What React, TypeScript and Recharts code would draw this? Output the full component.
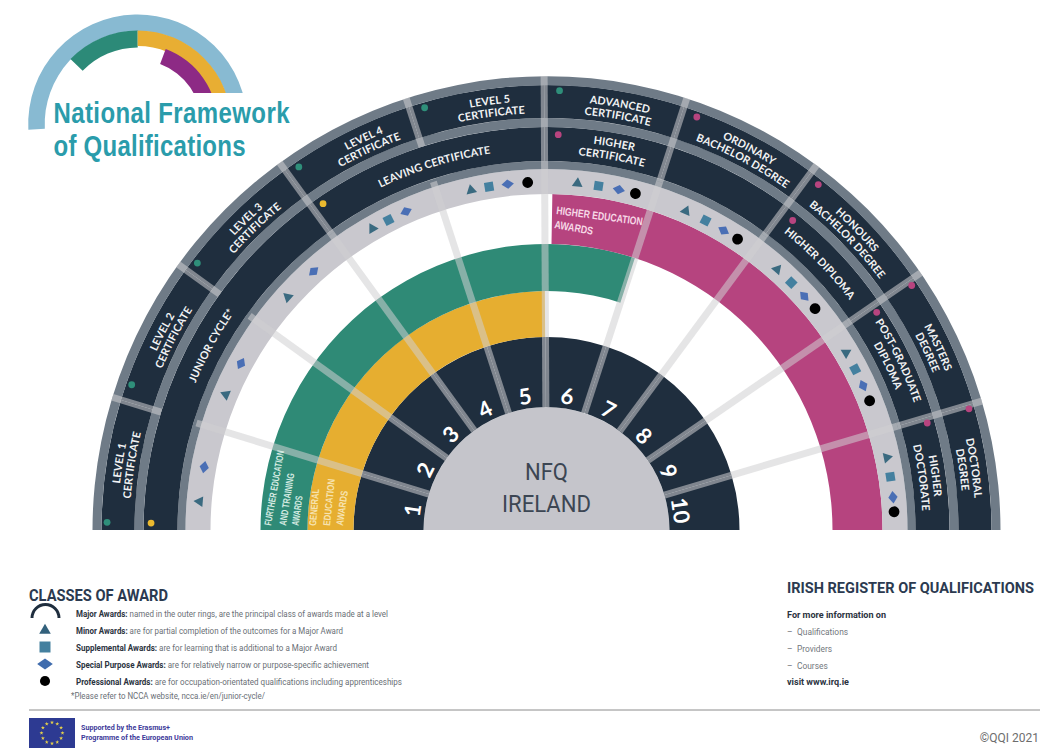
import React from "react";
import { PieChart, Pie, Symbols, Sector } from "recharts";

// angle (deg clockwise from the left end) where each level wedge ends
const levelEdges = [0, 17, 35.8, 54, 72, 89.7, 108, 126.5, 145.5, 163.5, 180];
const levelNames = ["1", "2", "3", "4", "5", "6", "7", "8", "9", "10"];

const outerLabels = [
  ["LEVEL 1", "CERTIFICATE"], ["LEVEL 2", "CERTIFICATE"], ["LEVEL 3", "CERTIFICATE"],
  ["LEVEL 4", "CERTIFICATE"], ["LEVEL 5", "CERTIFICATE"], ["ADVANCED", "CERTIFICATE"],
  ["ORDINARY", "BACHELOR DEGREE"], ["HONOURS", "BACHELOR DEGREE"], ["MASTERS", "DEGREE"],
  ["DOCTORAL", "DEGREE"],
];
const outerNudge = [-0.4, -0.9, -1.1, -2, -1.6, -0.95, -0.75, 0, -0.5, 0];

const innerEdges = [0, 54, 89.7, 108, 126.5, 145.5, 163.5, 180];
const innerLabels = [
  ["JUNIOR CYCLE*"], ["LEAVING CERTIFICATE"], ["HIGHER", "CERTIFICATE"], [],
  ["HIGHER DIPLOMA"], ["POST-GRADUATE", "DIPLOMA"], ["HIGHER", "DOCTORATE"],
];
const innerNudge = [-1.8, -1, -1.1, 0, 0.3, 0.2, -0.3];

const markerAngles = [
  4.7, 10.4, 22.9, 28.6, 42, 48, 60, 63, 66.2, 77.5, 80.5, 83.6, 86.9,
  95.1, 98.6, 102, 104.8, 113.6, 117.2, 120.6, 123.3, 131.5, 134.7, 137.8, 140.5,
  149.4, 152.5, 155.5, 158.2, 168, 171.2, 174.6, 177,
];
const markerKinds = [
  "triangle", "diamond", "triangle", "diamond", "triangle", "diamond",
  "triangle", "square", "diamond", "triangle", "square", "diamond", "circle",
  "triangle", "square", "diamond", "circle", "triangle", "square", "diamond", "circle",
  "triangle", "square", "diamond", "circle", "triangle", "square", "diamond", "circle",
  "triangle", "square", "diamond", "circle",
];

const outerDotAngles = [1, 19.3, 37.4, 55.7, 73.9, 91.7, 110, 128.2, 146.2, 164];
const outerDotKinds = ["fe", "fe", "fe", "fe", "fe", "fe", "he", "he", "he", "he"];
const innerDotAngles = [1, 55.6, 91.7, 128.5, 146.6, 164.3];
const innerDotKinds = ["ge", "ge", "he", "he", "he", "he"];

const classRows = [
  ["Major Awards:", " named in the outer rings, are the principal class of awards made at a level"],
  ["Minor Awards:", " are for partial completion of the outcomes for a Major Award"],
  ["Supplemental Awards:", " are for learning that is additional to a Major Award"],
  ["Special Purpose Awards:", " are for relatively narrow or purpose-specific achievement"],
  ["Professional Awards:", " are for occupation-orientated qualifications including apprenticeships"],
];
const registerItems = ["Qualifications", "Providers", "Courses"];

const DARK = "#1f2e3e";
const BAND = "#6f7b87";
const LIGHT = "#c9c8ce";
const GREEN = "#2f8a76";
const YELLOW = "#e6ae30";
const PINK = "#b6447f";
const DOT: any = { fe: "#2f8f7a", ge: "#eab92f", he: "#b8447f" };
const MARKER: any = {
  triangle: { fill: "#3a6a80", size: 50 },
  square: { fill: "#44809f", size: 80 },
  diamond: { fill: "#4a6fb5", size: 62 },
  circle: { fill: "#000", size: 92 },
};

const CX = 546.5;
const CY = 530;
const RAD = Math.PI / 180;
const pt = (r: number, deg: number) => [CX + r * Math.cos(deg * RAD), CY - r * Math.sin(deg * RAD)];

const spans = (edges: number[]) => edges.slice(1).map((e, i) => ({ value: e - edges[i] }));
// each sector ends on the angle it stands for, the last one only fills up to 180
const gaps = (angles: number[]) => spans([0, ...angles, 180]);

const half = {
  cx: CX, cy: CY, startAngle: 180, endAngle: 0, dataKey: "value",
  stroke: "none", isAnimationActive: false, labelLine: false,
};
const whole = [{ value: 1 }];

const Divider = (p: any) => {
  if (p.index === 0) return <g key={p.index} />;
  const [x1, y1] = pt(p.innerRadius, p.startAngle);
  const [x2, y2] = pt(p.outerRadius, p.startAngle);
  return <line key={p.index} x1={x1} y1={y1} x2={x2} y2={y2} stroke="#d0d0d2" strokeOpacity={0.55} strokeWidth={7} />;
};

const ringLabel = (prefix: string, names: string[][], nudge: number[], bases: number[][]) => (p: any) => {
  const lines = names[p.index];
  const mid = p.midAngle + nudge[p.index];
  return (
    <g key={p.index}>
      {lines.map((line, i) => {
        const r = bases[lines.length - 1][i];
        const [x1, y1] = pt(r, mid + 40);
        const [x2, y2] = pt(r, mid - 40);
        const id = `${prefix}-${p.index}-${i}`;
        return (
          <g key={id}>
            <path id={id} d={`M${x1} ${y1}A${r} ${r} 0 0 1 ${x2} ${y2}`} fill="none" stroke="none" />
            <text fill="#f2f3f4" fontFamily="Lato, sans-serif" fontWeight={700} fontSize={10.8} letterSpacing={0.1}>
              <textPath href={`#${id}`} startOffset="50%" textAnchor="middle">{line}</textPath>
            </text>
          </g>
        );
      })}
    </g>
  );
};

const LevelNumber = (p: any) => {
  const [x, y] = pt(136, p.midAngle);
  return (
    <text key={p.index} transform={`translate(${x} ${y}) rotate(${90 - p.midAngle})`} textAnchor="middle"
      dominantBaseline="central" fill="#fff" fontFamily="Lato, sans-serif" fontWeight={700} fontSize={22}>
      {levelNames[p.index]}
    </text>
  );
};

const Marker = (p: any) => {
  const kind = markerKinds[p.index];
  if (!kind) return <g key={p.index} />;
  const [x, y] = pt(348, p.endAngle);
  const turn = kind === "diamond" ? `rotate(${180 - p.endAngle}) scale(1.1 0.85)` : `rotate(${90 - p.endAngle})`;
  return (
    <g key={p.index} transform={`translate(${x} ${y}) ${turn}`}>
      <Symbols cx={0} cy={0} type={kind as any} size={MARKER[kind].size} fill={MARKER[kind].fill} />
    </g>
  );
};

const dotLabel = (kinds: string[], r: number) => (p: any) => {
  const kind = kinds[p.index];
  if (!kind) return <g key={p.index} />;
  const [x, y] = pt(r, p.endAngle);
  return <circle key={p.index} cx={x} cy={y} r={3.4} fill={DOT[kind]} />;
};

const condensed = "'Liberation Sans', sans-serif";
const plain = "Roboto, sans-serif";
const LOGO = { cx: 137.7, cy: 124 };

export default function App() {
  return (
    <div style={{ position: "absolute", left: 0, top: 0, width: 1061, height: 753, background: "#fff", overflow: "hidden" }}>
      <div style={{ position: "absolute", left: 0, top: 0 }}>
        <PieChart width={1061} height={560} margin={{ top: 0, right: 0, bottom: 0, left: 0 }}>
          <Pie {...half} data={whole} name="centre" innerRadius={0} outerRadius={123} fill="#c5c5cb" />
          <Pie {...half} data={spans(levelEdges)} name="levels" innerRadius={123} outerRadius={193} fill={DARK} label={LevelNumber} />
          <Pie {...half} data={whole} name="general" endAngle={90.4} innerRadius={193} outerRadius={239} fill={YELLOW} />
          <Pie {...half} data={whole} name="further" endAngle={72} innerRadius={239} outerRadius={286} fill={GREEN} />
          <Pie {...half} data={whole} name="higher" startAngle={89} innerRadius={286} outerRadius={336} fill={PINK} />
          <Pie {...half} data={whole} name="band light" innerRadius={336} outerRadius={361} fill={LIGHT} />
          <Pie {...half} data={whole} name="band inner" innerRadius={361} outerRadius={369} fill={BAND} />
          <Pie {...half} data={spans(innerEdges)} name="inner ring" innerRadius={369} outerRadius={403} fill={DARK}
            label={ringLabel("inner", innerLabels, innerNudge, [[380.5], [389, 376]])} />
          <Pie {...half} data={whole} name="band mid" innerRadius={403} outerRadius={412} fill={BAND} />
          <Pie {...half} data={spans(levelEdges)} name="outer ring" innerRadius={412} outerRadius={445} fill={DARK}
            label={ringLabel("outer", outerLabels, outerNudge, [[424], [429, 417]])} />
          <Pie {...half} data={whole} name="band outer" innerRadius={445} outerRadius={454} fill={BAND} />

          <Pie {...half} data={spans(levelEdges)} name="dividers low" innerRadius={123} outerRadius={366} fill="none" label={Divider} />
          <Pie {...half} data={spans(innerEdges)} name="dividers mid" innerRadius={366} outerRadius={403} fill="none" label={Divider} />
          <Pie {...half} data={spans(levelEdges)} name="dividers high" innerRadius={403} outerRadius={454} fill="none" label={Divider} />
          <Pie {...half} data={gaps(markerAngles)} name="markers" innerRadius={340} outerRadius={356} fill="none" label={Marker} />
          <Pie {...half} data={gaps(outerDotAngles)} name="outer dots" innerRadius={430} outerRadius={445} fill="none" label={dotLabel(outerDotKinds, 439.5)} />
          <Pie {...half} data={gaps(innerDotAngles)} name="inner dots" innerRadius={385} outerRadius={403} fill="none" label={dotLabel(innerDotKinds, 395.5)} />
        </PieChart>
      </div>

      <div style={{ position: "absolute", left: 0, top: 0 }}>
        <PieChart width={300} height={135} margin={{ top: 0, right: 0, bottom: 0, left: 0 }}>
          <Pie {...half} {...LOGO} data={whole} name="logo sky" startAngle={183} innerRadius={93} outerRadius={109.5} fill="#88bad2" />
          <Pie {...half} {...LOGO} data={whole} name="logo green" startAngle={136} endAngle={90} innerRadius={76.5} outerRadius={93.5} fill="#2c8a78" />
          <Pie {...half} {...LOGO} data={whole} name="logo yellow" startAngle={90} innerRadius={78} outerRadius={93.5} fill="#e8ae33" />
          <Pie {...half} {...LOGO} data={whole} name="logo purple" startAngle={69.5} innerRadius={64} outerRadius={80} fill="#8d2a85" />
        </PieChart>
      </div>
      <div style={{ position: "absolute", left: 165, top: 93, width: 100, height: 42, background: "#fff" }} />

      <svg width={1061} height={753} style={{ position: "absolute", left: 0, top: 0 }}>
        <g fill="#2a9cab" fontFamily={condensed} fontWeight={700} fontSize={30}>
          <text transform="translate(53.5 122.5) scale(0.8 1)" textLength={295} lengthAdjust="spacing">National Framework</text>
          <text transform="translate(53.5 156) scale(0.8 1)" textLength={240} lengthAdjust="spacing">of Qualifications</text>
        </g>

        <text x={CX} y={480} textAnchor="middle" fill="#3c4653" fontFamily={plain} fontSize={24} textLength={43} lengthAdjust="spacingAndGlyphs">NFQ</text>
        <text x={CX} y={512} textAnchor="middle" fill="#3c4653" fontFamily={plain} fontSize={24} textLength={89} lengthAdjust="spacingAndGlyphs">IRELAND</text>

        <g fontFamily={condensed} fontWeight={700} fontSize={10} fill="#d5ebe2">
          <text transform="translate(271 526) rotate(-80)" textLength={76} lengthAdjust="spacingAndGlyphs">FURTHER EDUCATION</text>
          <text transform="translate(286 526) rotate(-81)" textLength={53} lengthAdjust="spacingAndGlyphs">AND TRAINING</text>
          <text transform="translate(298.5 526) rotate(-82)" textLength={30} lengthAdjust="spacingAndGlyphs">AWARDS</text>
        </g>
        <g fontFamily={condensed} fontWeight={700} fontSize={10} fill="#f6e3b0">
          <text transform="translate(316 526) rotate(-85)" textLength={37} lengthAdjust="spacingAndGlyphs">GENERAL</text>
          <text transform="translate(330 526) rotate(-84)" textLength={47} lengthAdjust="spacingAndGlyphs">EDUCATION</text>
          <text transform="translate(343 526) rotate(-82)" textLength={35} lengthAdjust="spacingAndGlyphs">AWARDS</text>
        </g>
        <g fontFamily={condensed} fontWeight={700} fontSize={11} fill="#f6d8e6">
          <text transform="translate(556 214) rotate(7.5)" textLength={87} lengthAdjust="spacingAndGlyphs">HIGHER EDUCATION</text>
          <text transform="translate(554 228) rotate(10)" textLength={39} lengthAdjust="spacingAndGlyphs">AWARDS</text>
        </g>

        <text x={29} y={601} fill="#2b3a50" fontFamily={plain} fontWeight={700} fontSize={16} textLength={139} lengthAdjust="spacingAndGlyphs">CLASSES OF AWARD</text>
        <Sector cx={45.5} cy={618} innerRadius={12} outerRadius={15} startAngle={180} endAngle={0} fill={DARK} />
        <Symbols cx={45} cy={630.5} type="triangle" size={58} fill="#33617c" />
        <Symbols cx={45} cy={647} type="square" size={121} fill="#44809f" />
        <g transform="translate(45 664) scale(1.42 1) rotate(45)"><rect x={-3.9} y={-3.9} width={7.8} height={7.8} fill="#3f6cad" /></g>
        <Symbols cx={45} cy={681} type="circle" size={80} fill="#000" />
        {classRows.map((row, i) => (
          <text key={row[0]} x={76} y={617 + i * 17} fontFamily={plain} fontSize={9.5} fill="#6a6f76"
            textLength={[312, 267, 261, 293, 326][i]} lengthAdjust="spacingAndGlyphs">
            <tspan fontWeight={700} fill="#2b3340">{row[0]}</tspan>{row[1]}
          </text>
        ))}
        <text x={71} y={699} fontFamily={plain} fontSize={9} fill="#6a6f76" textLength={194} lengthAdjust="spacingAndGlyphs">*Please refer to NCCA website, ncca.ie/en/junior-cycle/</text>

        <line x1={29} y1={710} x2={1040} y2={710} stroke="#8c8c8c" strokeWidth={1} />
        <rect x={29} y={718} width={46} height={30} fill="#2d3a92" />
        {Array.from({ length: 12 }, (_, i) => (
          <Symbols key={i} cx={52 + 10.5 * Math.cos(i * 30 * RAD)} cy={733 + 10.5 * Math.sin(i * 30 * RAD)} type="star" size={5} fill="#e8d24a" />
        ))}
        <g fontFamily={plain} fontWeight={700} fontSize={6.5} fill="#3d3a9a">
          <text x={81} y={730} textLength={89} lengthAdjust="spacingAndGlyphs">Supported by the Erasmus+</text>
          <text x={81} y={739.5} textLength={112} lengthAdjust="spacingAndGlyphs">Programme of the European Union</text>
        </g>

        <text x={787} y={592.5} fill="#2b3a50" fontFamily={plain} fontWeight={700} fontSize={15.5} textLength={247} lengthAdjust="spacingAndGlyphs">IRISH REGISTER OF QUALIFICATIONS</text>
        <text x={787} y={617.5} fill="#2b3340" fontFamily={plain} fontWeight={700} fontSize={9.5} textLength={99} lengthAdjust="spacingAndGlyphs">For more information on</text>
        {registerItems.map((item, i) => (
          <g key={item} fontFamily={plain} fontSize={8.4} fill="#73777d">
            <text x={787} y={634.5 + i * 17}>–</text>
            <text x={797} y={634.5 + i * 17}>{item}</text>
          </g>
        ))}
        <text x={787} y={684.5} fill="#2b3340" fontFamily={plain} fontWeight={700} fontSize={9.5} textLength={62} lengthAdjust="spacingAndGlyphs">visit www.irq.ie</text>
        <text x={1039} y={742} textAnchor="end" fill="#6d6d6d" fontFamily={plain} fontSize={12}>©QQI 2021</text>
      </svg>
    </div>
  );
}
